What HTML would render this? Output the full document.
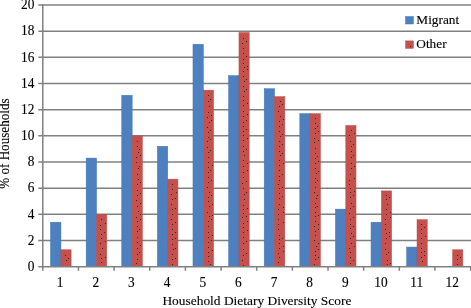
<!DOCTYPE html><html><head><meta charset="utf-8"><title>chart</title><style>html,body{margin:0;padding:0;background:#fff}svg{display:block}text{font-family:"Liberation Serif",serif;fill:#000;stroke:#000;stroke-width:.12px}</style></head><body>
<svg width="471" height="308" viewBox="0 0 471 308">
<defs>
<pattern id="pb" patternUnits="userSpaceOnUse" width="6" height="6"><rect width="6" height="6" fill="#4882c2"/><g fill="#a05f8c" opacity=".5"><rect x="0" y="1" width="1" height="1"/><rect x="3" y="0" width="1" height="1"/><rect x="2" y="3" width="1" height="1"/><rect x="5" y="4" width="1" height="1"/></g></pattern>
</defs>
<rect width="471" height="308" fill="#fff"/>
<line x1="38.30" y1="240.53" x2="471" y2="240.53" stroke="#808080" stroke-width="1.5"/>
<line x1="38.30" y1="214.36" x2="471" y2="214.36" stroke="#808080" stroke-width="1.5"/>
<line x1="38.30" y1="188.19" x2="471" y2="188.19" stroke="#808080" stroke-width="1.5"/>
<line x1="38.30" y1="162.02" x2="471" y2="162.02" stroke="#808080" stroke-width="1.5"/>
<line x1="38.30" y1="135.85" x2="471" y2="135.85" stroke="#808080" stroke-width="1.5"/>
<line x1="38.30" y1="109.68" x2="471" y2="109.68" stroke="#808080" stroke-width="1.5"/>
<line x1="38.30" y1="83.51" x2="471" y2="83.51" stroke="#808080" stroke-width="1.5"/>
<line x1="38.30" y1="57.34" x2="471" y2="57.34" stroke="#808080" stroke-width="1.5"/>
<line x1="38.30" y1="31.17" x2="471" y2="31.17" stroke="#808080" stroke-width="1.5"/>
<line x1="38.30" y1="5.00" x2="471" y2="5.00" stroke="#808080" stroke-width="1.5"/>
<rect x="50.54" y="222.21" width="10.39" height="44.49" fill="url(#pb)" stroke="#4076b6" stroke-width=".5"/>
<rect x="60.92" y="249.79" width="10.19" height="16.91" fill="#c6514c" stroke="#b84a45" stroke-width=".5"/>
<rect x="86.15" y="158.09" width="10.39" height="108.61" fill="url(#pb)" stroke="#4076b6" stroke-width=".5"/>
<rect x="96.53" y="214.46" width="10.19" height="52.24" fill="#c6514c" stroke="#b84a45" stroke-width=".5"/>
<rect x="121.76" y="95.29" width="10.39" height="171.41" fill="url(#pb)" stroke="#4076b6" stroke-width=".5"/>
<rect x="132.15" y="135.95" width="10.19" height="130.75" fill="#c6514c" stroke="#b84a45" stroke-width=".5"/>
<rect x="157.37" y="146.32" width="10.39" height="120.38" fill="url(#pb)" stroke="#4076b6" stroke-width=".5"/>
<rect x="167.75" y="179.13" width="10.19" height="87.57" fill="#c6514c" stroke="#b84a45" stroke-width=".5"/>
<rect x="192.98" y="44.25" width="10.39" height="222.45" fill="url(#pb)" stroke="#4076b6" stroke-width=".5"/>
<rect x="203.36" y="90.15" width="10.19" height="176.55" fill="#c6514c" stroke="#b84a45" stroke-width=".5"/>
<rect x="228.59" y="75.66" width="10.39" height="191.04" fill="url(#pb)" stroke="#4076b6" stroke-width=".5"/>
<rect x="238.97" y="32.58" width="10.19" height="234.12" fill="#c6514c" stroke="#b84a45" stroke-width=".5"/>
<rect x="264.20" y="88.74" width="10.39" height="177.96" fill="url(#pb)" stroke="#4076b6" stroke-width=".5"/>
<rect x="274.59" y="96.69" width="10.19" height="170.01" fill="#c6514c" stroke="#b84a45" stroke-width=".5"/>
<rect x="299.81" y="113.61" width="10.39" height="153.09" fill="url(#pb)" stroke="#4076b6" stroke-width=".5"/>
<rect x="310.20" y="113.71" width="10.19" height="152.99" fill="#c6514c" stroke="#b84a45" stroke-width=".5"/>
<rect x="335.42" y="209.13" width="10.39" height="57.57" fill="url(#pb)" stroke="#4076b6" stroke-width=".5"/>
<rect x="345.81" y="125.48" width="10.19" height="141.22" fill="#c6514c" stroke="#b84a45" stroke-width=".5"/>
<rect x="371.03" y="222.21" width="10.39" height="44.49" fill="url(#pb)" stroke="#4076b6" stroke-width=".5"/>
<rect x="381.42" y="190.91" width="10.19" height="75.79" fill="#c6514c" stroke="#b84a45" stroke-width=".5"/>
<rect x="406.64" y="247.07" width="10.39" height="19.63" fill="url(#pb)" stroke="#4076b6" stroke-width=".5"/>
<rect x="417.03" y="219.69" width="10.19" height="47.01" fill="#c6514c" stroke="#b84a45" stroke-width=".5"/>
<rect x="452.64" y="249.79" width="10.19" height="16.91" fill="#c6514c" stroke="#b84a45" stroke-width=".5"/>
<g fill="#2e2a2a">
<rect x="65" y="255" width="1" height="1"/>
<rect x="66" y="260" width="1" height="1"/>
<rect x="68" y="258" width="1" height="1"/>
<rect x="101" y="219" width="1" height="1"/>
<rect x="100" y="225" width="1" height="1"/>
<rect x="105" y="223" width="1" height="1"/>
<rect x="100" y="229" width="1" height="1"/>
<rect x="101" y="234" width="1" height="1"/>
<rect x="104" y="232" width="1" height="1"/>
<rect x="101" y="238" width="1" height="1"/>
<rect x="100" y="243" width="1" height="1"/>
<rect x="105" y="241" width="1" height="1"/>
<rect x="102" y="248" width="1" height="1"/>
<rect x="100" y="254" width="1" height="1"/>
<rect x="105" y="257" width="1" height="1"/>
<rect x="101" y="258" width="1" height="1"/>
<rect x="101" y="262" width="1" height="1"/>
<rect x="137" y="141" width="1" height="1"/>
<rect x="137" y="146" width="1" height="1"/>
<rect x="139" y="149" width="1" height="1"/>
<rect x="138" y="152" width="1" height="1"/>
<rect x="136" y="157" width="1" height="1"/>
<rect x="140" y="155" width="1" height="1"/>
<rect x="136" y="162" width="1" height="1"/>
<rect x="138" y="168" width="1" height="1"/>
<rect x="139" y="166" width="1" height="1"/>
<rect x="137" y="174" width="1" height="1"/>
<rect x="138" y="179" width="1" height="1"/>
<rect x="140" y="182" width="1" height="1"/>
<rect x="137" y="184" width="1" height="1"/>
<rect x="137" y="190" width="1" height="1"/>
<rect x="140" y="193" width="1" height="1"/>
<rect x="137" y="195" width="1" height="1"/>
<rect x="136" y="200" width="1" height="1"/>
<rect x="140" y="203" width="1" height="1"/>
<rect x="137" y="206" width="1" height="1"/>
<rect x="138" y="211" width="1" height="1"/>
<rect x="140" y="214" width="1" height="1"/>
<rect x="136" y="217" width="1" height="1"/>
<rect x="137" y="221" width="1" height="1"/>
<rect x="140" y="219" width="1" height="1"/>
<rect x="137" y="226" width="1" height="1"/>
<rect x="137" y="231" width="1" height="1"/>
<rect x="139" y="229" width="1" height="1"/>
<rect x="137" y="237" width="1" height="1"/>
<rect x="137" y="242" width="1" height="1"/>
<rect x="140" y="245" width="1" height="1"/>
<rect x="137" y="248" width="1" height="1"/>
<rect x="137" y="254" width="1" height="1"/>
<rect x="139" y="252" width="1" height="1"/>
<rect x="137" y="259" width="1" height="1"/>
<rect x="136" y="263" width="1" height="1"/>
<rect x="172" y="184" width="1" height="1"/>
<rect x="172" y="189" width="1" height="1"/>
<rect x="176" y="192" width="1" height="1"/>
<rect x="171" y="194" width="1" height="1"/>
<rect x="172" y="199" width="1" height="1"/>
<rect x="175" y="198" width="1" height="1"/>
<rect x="171" y="204" width="1" height="1"/>
<rect x="172" y="209" width="1" height="1"/>
<rect x="175" y="208" width="1" height="1"/>
<rect x="172" y="214" width="1" height="1"/>
<rect x="171" y="219" width="1" height="1"/>
<rect x="175" y="222" width="1" height="1"/>
<rect x="172" y="224" width="1" height="1"/>
<rect x="172" y="229" width="1" height="1"/>
<rect x="175" y="232" width="1" height="1"/>
<rect x="172" y="234" width="1" height="1"/>
<rect x="172" y="239" width="1" height="1"/>
<rect x="175" y="238" width="1" height="1"/>
<rect x="172" y="244" width="1" height="1"/>
<rect x="173" y="249" width="1" height="1"/>
<rect x="175" y="248" width="1" height="1"/>
<rect x="172" y="254" width="1" height="1"/>
<rect x="172" y="259" width="1" height="1"/>
<rect x="175" y="258" width="1" height="1"/>
<rect x="172" y="264" width="1" height="1"/>
<rect x="208" y="95" width="1" height="1"/>
<rect x="208" y="101" width="1" height="1"/>
<rect x="210" y="99" width="1" height="1"/>
<rect x="209" y="106" width="1" height="1"/>
<rect x="208" y="112" width="1" height="1"/>
<rect x="211" y="115" width="1" height="1"/>
<rect x="207" y="117" width="1" height="1"/>
<rect x="209" y="122" width="1" height="1"/>
<rect x="211" y="120" width="1" height="1"/>
<rect x="207" y="127" width="1" height="1"/>
<rect x="208" y="132" width="1" height="1"/>
<rect x="210" y="130" width="1" height="1"/>
<rect x="208" y="137" width="1" height="1"/>
<rect x="207" y="141" width="1" height="1"/>
<rect x="210" y="139" width="1" height="1"/>
<rect x="207" y="147" width="1" height="1"/>
<rect x="208" y="152" width="1" height="1"/>
<rect x="210" y="150" width="1" height="1"/>
<rect x="208" y="157" width="1" height="1"/>
<rect x="208" y="162" width="1" height="1"/>
<rect x="212" y="165" width="1" height="1"/>
<rect x="208" y="167" width="1" height="1"/>
<rect x="208" y="172" width="1" height="1"/>
<rect x="210" y="170" width="1" height="1"/>
<rect x="208" y="177" width="1" height="1"/>
<rect x="208" y="182" width="1" height="1"/>
<rect x="211" y="180" width="1" height="1"/>
<rect x="207" y="187" width="1" height="1"/>
<rect x="209" y="192" width="1" height="1"/>
<rect x="211" y="195" width="1" height="1"/>
<rect x="208" y="197" width="1" height="1"/>
<rect x="208" y="201" width="1" height="1"/>
<rect x="212" y="204" width="1" height="1"/>
<rect x="209" y="206" width="1" height="1"/>
<rect x="207" y="212" width="1" height="1"/>
<rect x="212" y="215" width="1" height="1"/>
<rect x="209" y="216" width="1" height="1"/>
<rect x="208" y="221" width="1" height="1"/>
<rect x="211" y="219" width="1" height="1"/>
<rect x="208" y="226" width="1" height="1"/>
<rect x="208" y="232" width="1" height="1"/>
<rect x="212" y="235" width="1" height="1"/>
<rect x="208" y="237" width="1" height="1"/>
<rect x="208" y="242" width="1" height="1"/>
<rect x="211" y="240" width="1" height="1"/>
<rect x="208" y="247" width="1" height="1"/>
<rect x="208" y="252" width="1" height="1"/>
<rect x="212" y="250" width="1" height="1"/>
<rect x="208" y="256" width="1" height="1"/>
<rect x="208" y="261" width="1" height="1"/>
<rect x="210" y="264" width="1" height="1"/>
<rect x="243" y="38" width="1" height="1"/>
<rect x="242" y="43" width="1" height="1"/>
<rect x="246" y="41" width="1" height="1"/>
<rect x="243" y="48" width="1" height="1"/>
<rect x="243" y="53" width="1" height="1"/>
<rect x="246" y="56" width="1" height="1"/>
<rect x="243" y="59" width="1" height="1"/>
<rect x="243" y="63" width="1" height="1"/>
<rect x="247" y="66" width="1" height="1"/>
<rect x="244" y="67" width="1" height="1"/>
<rect x="243" y="71" width="1" height="1"/>
<rect x="247" y="69" width="1" height="1"/>
<rect x="243" y="76" width="1" height="1"/>
<rect x="244" y="81" width="1" height="1"/>
<rect x="246" y="79" width="1" height="1"/>
<rect x="243" y="86" width="1" height="1"/>
<rect x="244" y="91" width="1" height="1"/>
<rect x="246" y="89" width="1" height="1"/>
<rect x="243" y="96" width="1" height="1"/>
<rect x="243" y="100" width="1" height="1"/>
<rect x="247" y="103" width="1" height="1"/>
<rect x="243" y="105" width="1" height="1"/>
<rect x="243" y="111" width="1" height="1"/>
<rect x="247" y="114" width="1" height="1"/>
<rect x="243" y="116" width="1" height="1"/>
<rect x="243" y="122" width="1" height="1"/>
<rect x="246" y="120" width="1" height="1"/>
<rect x="243" y="126" width="1" height="1"/>
<rect x="243" y="131" width="1" height="1"/>
<rect x="246" y="129" width="1" height="1"/>
<rect x="243" y="135" width="1" height="1"/>
<rect x="243" y="140" width="1" height="1"/>
<rect x="247" y="138" width="1" height="1"/>
<rect x="243" y="146" width="1" height="1"/>
<rect x="243" y="151" width="1" height="1"/>
<rect x="246" y="149" width="1" height="1"/>
<rect x="244" y="155" width="1" height="1"/>
<rect x="243" y="160" width="1" height="1"/>
<rect x="247" y="163" width="1" height="1"/>
<rect x="243" y="166" width="1" height="1"/>
<rect x="243" y="172" width="1" height="1"/>
<rect x="247" y="170" width="1" height="1"/>
<rect x="243" y="177" width="1" height="1"/>
<rect x="242" y="183" width="1" height="1"/>
<rect x="246" y="181" width="1" height="1"/>
<rect x="243" y="188" width="1" height="1"/>
<rect x="244" y="194" width="1" height="1"/>
<rect x="246" y="192" width="1" height="1"/>
<rect x="244" y="199" width="1" height="1"/>
<rect x="243" y="205" width="1" height="1"/>
<rect x="247" y="208" width="1" height="1"/>
<rect x="243" y="209" width="1" height="1"/>
<rect x="243" y="213" width="1" height="1"/>
<rect x="246" y="216" width="1" height="1"/>
<rect x="242" y="217" width="1" height="1"/>
<rect x="243" y="223" width="1" height="1"/>
<rect x="247" y="221" width="1" height="1"/>
<rect x="243" y="227" width="1" height="1"/>
<rect x="243" y="232" width="1" height="1"/>
<rect x="247" y="230" width="1" height="1"/>
<rect x="243" y="237" width="1" height="1"/>
<rect x="243" y="243" width="1" height="1"/>
<rect x="246" y="241" width="1" height="1"/>
<rect x="243" y="249" width="1" height="1"/>
<rect x="243" y="255" width="1" height="1"/>
<rect x="246" y="253" width="1" height="1"/>
<rect x="242" y="260" width="1" height="1"/>
<rect x="243" y="265" width="1" height="1"/>
<rect x="280" y="101" width="1" height="1"/>
<rect x="279" y="106" width="1" height="1"/>
<rect x="282" y="104" width="1" height="1"/>
<rect x="278" y="111" width="1" height="1"/>
<rect x="280" y="116" width="1" height="1"/>
<rect x="283" y="119" width="1" height="1"/>
<rect x="279" y="121" width="1" height="1"/>
<rect x="279" y="126" width="1" height="1"/>
<rect x="282" y="124" width="1" height="1"/>
<rect x="279" y="131" width="1" height="1"/>
<rect x="280" y="136" width="1" height="1"/>
<rect x="282" y="134" width="1" height="1"/>
<rect x="279" y="141" width="1" height="1"/>
<rect x="279" y="146" width="1" height="1"/>
<rect x="282" y="144" width="1" height="1"/>
<rect x="279" y="151" width="1" height="1"/>
<rect x="280" y="155" width="1" height="1"/>
<rect x="282" y="153" width="1" height="1"/>
<rect x="279" y="160" width="1" height="1"/>
<rect x="279" y="165" width="1" height="1"/>
<rect x="283" y="163" width="1" height="1"/>
<rect x="279" y="170" width="1" height="1"/>
<rect x="279" y="176" width="1" height="1"/>
<rect x="282" y="174" width="1" height="1"/>
<rect x="279" y="180" width="1" height="1"/>
<rect x="278" y="184" width="1" height="1"/>
<rect x="282" y="187" width="1" height="1"/>
<rect x="279" y="188" width="1" height="1"/>
<rect x="279" y="193" width="1" height="1"/>
<rect x="282" y="196" width="1" height="1"/>
<rect x="279" y="198" width="1" height="1"/>
<rect x="279" y="204" width="1" height="1"/>
<rect x="283" y="207" width="1" height="1"/>
<rect x="278" y="209" width="1" height="1"/>
<rect x="278" y="214" width="1" height="1"/>
<rect x="283" y="212" width="1" height="1"/>
<rect x="278" y="219" width="1" height="1"/>
<rect x="278" y="224" width="1" height="1"/>
<rect x="283" y="222" width="1" height="1"/>
<rect x="278" y="229" width="1" height="1"/>
<rect x="279" y="235" width="1" height="1"/>
<rect x="282" y="238" width="1" height="1"/>
<rect x="279" y="239" width="1" height="1"/>
<rect x="279" y="243" width="1" height="1"/>
<rect x="283" y="246" width="1" height="1"/>
<rect x="279" y="248" width="1" height="1"/>
<rect x="278" y="253" width="1" height="1"/>
<rect x="283" y="251" width="1" height="1"/>
<rect x="279" y="257" width="1" height="1"/>
<rect x="278" y="262" width="1" height="1"/>
<rect x="315" y="118" width="1" height="1"/>
<rect x="315" y="123" width="1" height="1"/>
<rect x="317" y="126" width="1" height="1"/>
<rect x="315" y="128" width="1" height="1"/>
<rect x="315" y="133" width="1" height="1"/>
<rect x="318" y="131" width="1" height="1"/>
<rect x="314" y="138" width="1" height="1"/>
<rect x="314" y="142" width="1" height="1"/>
<rect x="318" y="140" width="1" height="1"/>
<rect x="315" y="148" width="1" height="1"/>
<rect x="315" y="153" width="1" height="1"/>
<rect x="317" y="156" width="1" height="1"/>
<rect x="315" y="158" width="1" height="1"/>
<rect x="315" y="163" width="1" height="1"/>
<rect x="318" y="161" width="1" height="1"/>
<rect x="315" y="168" width="1" height="1"/>
<rect x="316" y="173" width="1" height="1"/>
<rect x="318" y="171" width="1" height="1"/>
<rect x="315" y="178" width="1" height="1"/>
<rect x="315" y="182" width="1" height="1"/>
<rect x="317" y="180" width="1" height="1"/>
<rect x="315" y="187" width="1" height="1"/>
<rect x="314" y="192" width="1" height="1"/>
<rect x="317" y="195" width="1" height="1"/>
<rect x="316" y="198" width="1" height="1"/>
<rect x="315" y="203" width="1" height="1"/>
<rect x="317" y="206" width="1" height="1"/>
<rect x="315" y="207" width="1" height="1"/>
<rect x="315" y="212" width="1" height="1"/>
<rect x="318" y="215" width="1" height="1"/>
<rect x="315" y="216" width="1" height="1"/>
<rect x="315" y="221" width="1" height="1"/>
<rect x="318" y="224" width="1" height="1"/>
<rect x="314" y="226" width="1" height="1"/>
<rect x="315" y="231" width="1" height="1"/>
<rect x="318" y="229" width="1" height="1"/>
<rect x="315" y="235" width="1" height="1"/>
<rect x="314" y="240" width="1" height="1"/>
<rect x="318" y="243" width="1" height="1"/>
<rect x="316" y="246" width="1" height="1"/>
<rect x="315" y="251" width="1" height="1"/>
<rect x="318" y="249" width="1" height="1"/>
<rect x="315" y="255" width="1" height="1"/>
<rect x="315" y="259" width="1" height="1"/>
<rect x="318" y="257" width="1" height="1"/>
<rect x="314" y="264" width="1" height="1"/>
<rect x="351" y="130" width="1" height="1"/>
<rect x="349" y="135" width="1" height="1"/>
<rect x="354" y="133" width="1" height="1"/>
<rect x="350" y="141" width="1" height="1"/>
<rect x="351" y="146" width="1" height="1"/>
<rect x="353" y="144" width="1" height="1"/>
<rect x="351" y="151" width="1" height="1"/>
<rect x="351" y="157" width="1" height="1"/>
<rect x="353" y="155" width="1" height="1"/>
<rect x="351" y="163" width="1" height="1"/>
<rect x="351" y="168" width="1" height="1"/>
<rect x="354" y="166" width="1" height="1"/>
<rect x="350" y="174" width="1" height="1"/>
<rect x="349" y="180" width="1" height="1"/>
<rect x="354" y="178" width="1" height="1"/>
<rect x="349" y="184" width="1" height="1"/>
<rect x="350" y="188" width="1" height="1"/>
<rect x="354" y="191" width="1" height="1"/>
<rect x="350" y="192" width="1" height="1"/>
<rect x="350" y="197" width="1" height="1"/>
<rect x="353" y="195" width="1" height="1"/>
<rect x="351" y="203" width="1" height="1"/>
<rect x="350" y="208" width="1" height="1"/>
<rect x="353" y="206" width="1" height="1"/>
<rect x="349" y="213" width="1" height="1"/>
<rect x="350" y="219" width="1" height="1"/>
<rect x="353" y="217" width="1" height="1"/>
<rect x="350" y="224" width="1" height="1"/>
<rect x="350" y="228" width="1" height="1"/>
<rect x="353" y="226" width="1" height="1"/>
<rect x="351" y="233" width="1" height="1"/>
<rect x="350" y="238" width="1" height="1"/>
<rect x="353" y="236" width="1" height="1"/>
<rect x="351" y="243" width="1" height="1"/>
<rect x="349" y="248" width="1" height="1"/>
<rect x="354" y="246" width="1" height="1"/>
<rect x="350" y="252" width="1" height="1"/>
<rect x="350" y="257" width="1" height="1"/>
<rect x="353" y="260" width="1" height="1"/>
<rect x="350" y="263" width="1" height="1"/>
<rect x="386" y="195" width="1" height="1"/>
<rect x="386" y="199" width="1" height="1"/>
<rect x="389" y="197" width="1" height="1"/>
<rect x="387" y="204" width="1" height="1"/>
<rect x="386" y="209" width="1" height="1"/>
<rect x="390" y="212" width="1" height="1"/>
<rect x="386" y="214" width="1" height="1"/>
<rect x="385" y="219" width="1" height="1"/>
<rect x="390" y="217" width="1" height="1"/>
<rect x="385" y="224" width="1" height="1"/>
<rect x="385" y="229" width="1" height="1"/>
<rect x="389" y="232" width="1" height="1"/>
<rect x="386" y="233" width="1" height="1"/>
<rect x="386" y="238" width="1" height="1"/>
<rect x="389" y="236" width="1" height="1"/>
<rect x="385" y="243" width="1" height="1"/>
<rect x="385" y="249" width="1" height="1"/>
<rect x="388" y="252" width="1" height="1"/>
<rect x="386" y="254" width="1" height="1"/>
<rect x="387" y="260" width="1" height="1"/>
<rect x="390" y="263" width="1" height="1"/>
<rect x="387" y="264" width="1" height="1"/>
<rect x="421" y="224" width="1" height="1"/>
<rect x="421" y="229" width="1" height="1"/>
<rect x="424" y="227" width="1" height="1"/>
<rect x="421" y="233" width="1" height="1"/>
<rect x="421" y="238" width="1" height="1"/>
<rect x="425" y="236" width="1" height="1"/>
<rect x="421" y="243" width="1" height="1"/>
<rect x="421" y="248" width="1" height="1"/>
<rect x="424" y="251" width="1" height="1"/>
<rect x="421" y="252" width="1" height="1"/>
<rect x="421" y="257" width="1" height="1"/>
<rect x="424" y="255" width="1" height="1"/>
<rect x="422" y="261" width="1" height="1"/>
<rect x="457" y="255" width="1" height="1"/>
<rect x="457" y="259" width="1" height="1"/>
<rect x="460" y="257" width="1" height="1"/>
<rect x="457" y="264" width="1" height="1"/>
</g>
<line x1="38.3" y1="266.70" x2="471" y2="266.70" stroke="#808080" stroke-width="1.5"/>
<line x1="42.80" y1="4.25" x2="42.80" y2="270.80" stroke="#808080" stroke-width="1.5"/>
<line x1="78.45" y1="266.70" x2="78.45" y2="270.80" stroke="#808080" stroke-width="1.5"/>
<line x1="114.10" y1="266.70" x2="114.10" y2="270.80" stroke="#808080" stroke-width="1.5"/>
<line x1="149.75" y1="266.70" x2="149.75" y2="270.80" stroke="#808080" stroke-width="1.5"/>
<line x1="185.40" y1="266.70" x2="185.40" y2="270.80" stroke="#808080" stroke-width="1.5"/>
<line x1="221.05" y1="266.70" x2="221.05" y2="270.80" stroke="#808080" stroke-width="1.5"/>
<line x1="256.70" y1="266.70" x2="256.70" y2="270.80" stroke="#808080" stroke-width="1.5"/>
<line x1="292.35" y1="266.70" x2="292.35" y2="270.80" stroke="#808080" stroke-width="1.5"/>
<line x1="328.00" y1="266.70" x2="328.00" y2="270.80" stroke="#808080" stroke-width="1.5"/>
<line x1="363.65" y1="266.70" x2="363.65" y2="270.80" stroke="#808080" stroke-width="1.5"/>
<line x1="399.30" y1="266.70" x2="399.30" y2="270.80" stroke="#808080" stroke-width="1.5"/>
<line x1="434.95" y1="266.70" x2="434.95" y2="270.80" stroke="#808080" stroke-width="1.5"/>
<line x1="470.60" y1="266.70" x2="470.60" y2="270.80" stroke="#808080" stroke-width="1.5"/>
<text transform="translate(34.30,271.00) scale(1,1.030)" font-size="13.33" text-anchor="end">0</text>
<text transform="translate(34.30,244.83) scale(1,1.030)" font-size="13.33" text-anchor="end">2</text>
<text transform="translate(34.30,218.66) scale(1,1.030)" font-size="13.33" text-anchor="end">4</text>
<text transform="translate(34.30,192.49) scale(1,1.030)" font-size="13.33" text-anchor="end">6</text>
<text transform="translate(34.30,166.32) scale(1,1.030)" font-size="13.33" text-anchor="end">8</text>
<text transform="translate(34.30,140.15) scale(1,1.030)" font-size="13.33" text-anchor="end">10</text>
<text transform="translate(34.30,113.98) scale(1,1.030)" font-size="13.33" text-anchor="end">12</text>
<text transform="translate(34.30,87.81) scale(1,1.030)" font-size="13.33" text-anchor="end">14</text>
<text transform="translate(34.30,61.64) scale(1,1.030)" font-size="13.33" text-anchor="end">16</text>
<text transform="translate(34.30,35.47) scale(1,1.030)" font-size="13.33" text-anchor="end">18</text>
<text transform="translate(34.30,9.30) scale(1,1.030)" font-size="13.33" text-anchor="end">20</text>
<text transform="translate(60.12,286.70) scale(1,1.030)" font-size="13.33" text-anchor="middle">1</text>
<text transform="translate(95.77,286.70) scale(1,1.030)" font-size="13.33" text-anchor="middle">2</text>
<text transform="translate(131.43,286.70) scale(1,1.030)" font-size="13.33" text-anchor="middle">3</text>
<text transform="translate(167.07,286.70) scale(1,1.030)" font-size="13.33" text-anchor="middle">4</text>
<text transform="translate(202.72,286.70) scale(1,1.030)" font-size="13.33" text-anchor="middle">5</text>
<text transform="translate(238.38,286.70) scale(1,1.030)" font-size="13.33" text-anchor="middle">6</text>
<text transform="translate(274.02,286.70) scale(1,1.030)" font-size="13.33" text-anchor="middle">7</text>
<text transform="translate(309.68,286.70) scale(1,1.030)" font-size="13.33" text-anchor="middle">8</text>
<text transform="translate(345.32,286.70) scale(1,1.030)" font-size="13.33" text-anchor="middle">9</text>
<text transform="translate(380.98,286.70) scale(1,1.030)" font-size="13.33" text-anchor="middle">10</text>
<text transform="translate(416.62,286.70) scale(1,1.030)" font-size="13.33" text-anchor="middle">11</text>
<text transform="translate(452.27,286.70) scale(1,1.030)" font-size="13.33" text-anchor="middle">12</text>
<text transform="translate(162.40,304.70) scale(1,0.970)" font-size="13.42">Household Dietary Diversity Score</text>
<text transform="translate(9.30,143.60) rotate(-90) scale(1,1.045)" font-size="13.12" text-anchor="middle">% of Households</text>
<rect x="405.6" y="16.5" width="7.8" height="7.5" fill="url(#pb)" stroke="#4076b6" stroke-width=".5"/>
<text transform="translate(416.30,24.20) scale(1,0.980)" font-size="13.33">Migrant</text>
<rect x="405.6" y="40.9" width="7.8" height="7.4" fill="#c6514c" stroke="#b84a45" stroke-width=".5"/>
<rect x="410" y="46" width="1" height="1" fill="#2e2a2a"/>
<text transform="translate(416.30,48.40) scale(1,0.980)" font-size="13.33">Other</text>
</svg></body></html>
